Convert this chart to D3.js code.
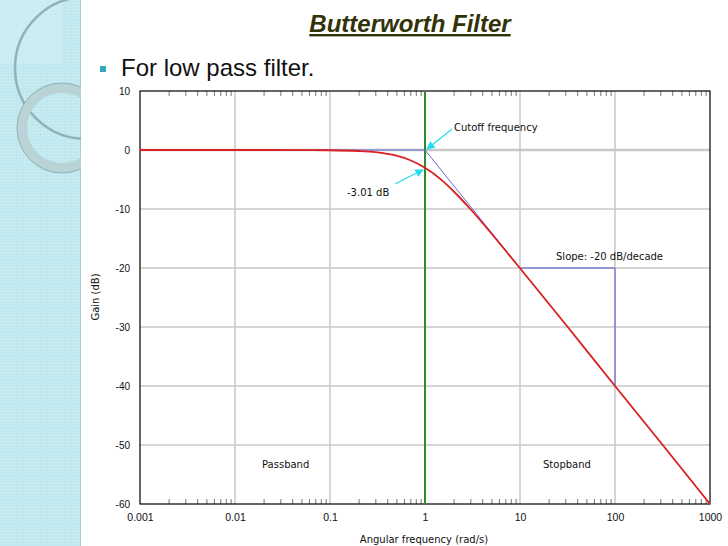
<!DOCTYPE html>
<html><head><meta charset="utf-8">
<script src="https://cdn.jsdelivr.net/npm/d3@7"></script>
<style>body{margin:0;background:#fff}svg{display:block}</style>
</head><body>
<svg id="c" width="728" height="546"></svg>
<script>
// values
const freqTicks = [0.001, 0.01, 0.1, 1, 10, 100, 1000];
const freqLabels = ['0.001', '0.01', '0.1', '1', '10', '100', '1000'];
const gainTicks = [10, 0, -10, -20, -30, -40, -50, -60];
const respW = [0.001, 0.01, 0.05, 0.1, 0.2, 0.3, 0.5, 0.7, 1, 1.5, 2, 3, 5, 7, 10, 30, 100, 300, 1000];
const respDb = [0, 0, -0.01, -0.04, -0.17, -0.37, -0.97, -1.73, -3.01, -5.1, -6.99, -10, -14.15, -17, -20.04, -29.5, -40, -49.5, -60];
const asymW = [0.001, 1, 1000];
const asymDb = [0, 0, -60];
const slopeW = [10, 100, 100];
const slopeDb = [-20, -20, -40];

const svg = d3.select('#c');
const defs = svg.append('defs');
const pat = defs.append('pattern').attr('id', 'dots').attr('width', 3).attr('height', 3)
  .attr('patternUnits', 'userSpaceOnUse');
pat.append('rect').attr('width', 3).attr('height', 3).attr('fill', '#bfe9ef');
pat.append('rect').attr('width', 1).attr('height', 1).attr('fill', '#d9f3f6');

// left decorative strip
svg.append('rect').attr('width', 80).attr('height', 546).attr('fill', 'url(#dots)');
svg.append('rect').attr('width', 62).attr('height', 64).attr('fill', '#d2f0f4').attr('opacity', 0.6);
svg.append('line').attr('x1', 80.5).attr('x2', 80.5).attr('y1', 0).attr('y2', 546)
  .attr('stroke', '#a9cdd3');
const deco = svg.append('g');
deco.append('circle').attr('cx', 86).attr('cy', 68).attr('r', 71)
  .attr('fill', 'none').attr('stroke', '#8fb3b8').attr('stroke-width', 2.5);
deco.append('circle').attr('cx', 62).attr('cy', 128).attr('r', 40)
  .attr('fill', 'none').attr('stroke', '#b9d3d7').attr('stroke-width', 10);
deco.append('circle').attr('cx', 62).attr('cy', 128).attr('r', 45)
  .attr('fill', 'none').attr('stroke', '#8fb0b5').attr('stroke-width', 1);
// cover decoration on the right of the strip
svg.append('rect').attr('x', 81).attr('width', 647).attr('height', 546).attr('fill', '#fff');

// title
svg.append('text').attr('x', 410).attr('y', 32).attr('text-anchor', 'middle')
  .attr('font-family', 'Liberation Sans, Arial').attr('font-size', 24)
  .attr('font-weight', 'bold').attr('font-style', 'italic').attr('fill', '#333309')
  .attr('text-decoration', 'underline').text('Butterworth Filter');
svg.append('rect').attr('x', 100).attr('y', 66).attr('width', 6).attr('height', 6).attr('fill', '#35a7bf');
svg.append('text').attr('x', 121).attr('y', 76)
  .attr('font-family', 'Liberation Sans, Arial').attr('font-size', 24).attr('fill', '#111')
  .text('For low pass filter.');

// chart
const x = d3.scaleLog().domain([0.001, 1000]).range([140, 710]);
const y = d3.scaleLinear().domain([-60, 10]).range([504, 91]);
const g = svg.append('g').attr('font-family', 'DejaVu Sans, sans-serif').attr('font-size', 10);

// grid
g.selectAll('.vg').data(freqTicks.slice(1, -1)).join('line')
  .attr('x1', d => x(d)).attr('x2', d => x(d)).attr('y1', 91).attr('y2', 504)
  .attr('stroke', '#c8c8c8').attr('stroke-width', 1.5);
g.selectAll('.hg').data(gainTicks.slice(1, -1)).join('line')
  .attr('x1', 140).attr('x2', 710).attr('y1', d => y(d)).attr('y2', d => y(d))
  .attr('stroke', '#c8c8c8').attr('stroke-width', d => d === 0 ? 2.5 : 1.5);

// minor ticks
const minor = [];
for (let i = 0; i < 6; i++) for (let k = 2; k <= 9; k++) minor.push(freqTicks[i] * k);
g.append('g').call(d3.axisBottom(x).tickValues(minor).tickSize(-5).tickFormat(''))
  .attr('transform', 'translate(0,504)').call(a => a.select('.domain').remove())
  .selectAll('line').attr('stroke', '#777');
g.append('g').call(d3.axisTop(x).tickValues(minor).tickSize(-5).tickFormat(''))
  .attr('transform', 'translate(0,91)').call(a => a.select('.domain').remove())
  .selectAll('line').attr('stroke', '#777');

// axes labels
g.append('g').attr('transform', 'translate(0,504)')
  .call(d3.axisBottom(x).tickValues(freqTicks).tickSize(0).tickPadding(10)
    .tickFormat((d, i) => freqLabels[i]))
  .call(a => a.select('.domain').remove())
  .selectAll('text').attr('fill', '#111').attr('font-size', 10.5);
g.append('g').attr('transform', 'translate(140,0)')
  .call(d3.axisLeft(y).tickValues(gainTicks).tickSize(0).tickPadding(10).tickFormat(d => String(d)))
  .call(a => a.select('.domain').remove())
  .selectAll('text').attr('fill', '#111').attr('font-size', 10);

g.append('rect').attr('x', 140).attr('y', 91).attr('width', 570).attr('height', 413)
  .attr('fill', 'none').attr('stroke', '#000').attr('stroke-width', 1.2);

// cutoff line
g.append('line').attr('x1', x(1)).attr('x2', x(1)).attr('y1', 91).attr('y2', 504)
  .attr('stroke', '#2e8b2e').attr('stroke-width', 2);

// asymptote & slope
const line = d3.line().x(d => x(d[0])).y(d => y(d[1]));
g.append('path').attr('d', line(asymW.map((w, i) => [w, asymDb[i]])))
  .attr('fill', 'none').attr('stroke', '#6666dd').attr('stroke-width', 1);
g.append('path').attr('d', line(slopeW.map((w, i) => [w, slopeDb[i]])))
  .attr('fill', 'none').attr('stroke', '#5555cc').attr('stroke-width', 1);

// response
const curve = d3.line().x(d => x(d[0])).y(d => y(d[1])).curve(d3.curveMonotoneX);
g.append('path').attr('d', curve(respW.map((w, i) => [w, respDb[i]])))
  .attr('fill', 'none').attr('stroke', '#dd1f1f').attr('stroke-width', 1.8);

// annotations
defs.append('marker').attr('id', 'ar').attr('viewBox', '0 0 10 10').attr('refX', 9).attr('refY', 5)
  .attr('markerWidth', 7).attr('markerHeight', 7).attr('orient', 'auto')
  .append('path').attr('d', 'M0,0L10,5L0,10z').attr('fill', '#22ddee');
g.append('line').attr('x1', 452).attr('y1', 129).attr('x2', x(1) + 2).attr('y2', y(0) - 1)
  .attr('stroke', '#22ddee').attr('stroke-width', 1.2).attr('marker-end', 'url(#ar)');
g.append('line').attr('x1', 395).attr('y1', 184).attr('x2', x(1) - 2).attr('y2', y(-3.01) + 2)
  .attr('stroke', '#22ddee').attr('stroke-width', 1.2).attr('marker-end', 'url(#ar)');
const ann = [['Cutoff frequency', 454, 131], ['-3.01 dB', 347, 196],
  ['Slope: -20 dB/decade', 556, 260], ['Passband', 262, 468], ['Stopband', 543, 468]];
g.selectAll('.ann').data(ann).join('text')
  .attr('x', d => d[1]).attr('y', d => d[2]).attr('fill', '#111').attr('font-size', 10)
  .text(d => d[0]);

g.append('text').attr('x', 424).attr('y', 543).attr('text-anchor', 'middle')
  .attr('fill', '#111').attr('font-size', 10).text('Angular frequency (rad/s)');
g.append('text').attr('transform', 'translate(99,297) rotate(-90)').attr('text-anchor', 'middle')
  .attr('fill', '#111').attr('font-size', 10).text('Gain (dB)');
</script>
</body></html>
